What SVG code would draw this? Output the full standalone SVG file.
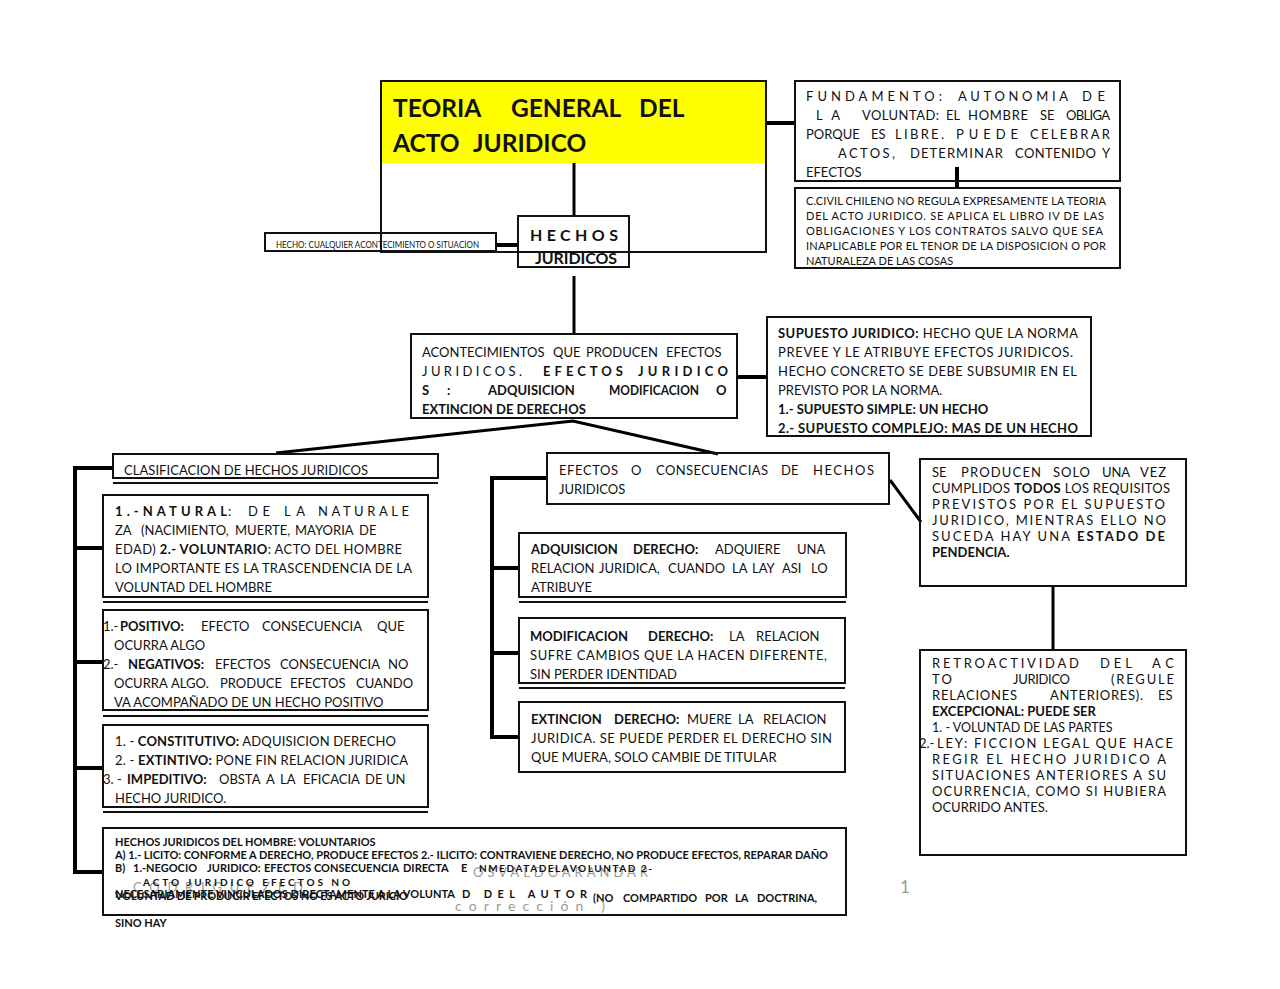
<svg xmlns="http://www.w3.org/2000/svg" width="1280" height="989" viewBox="0 0 1280 989">
<style>
.box{fill:none;stroke:#111;stroke-width:2}
.con{fill:none;stroke:#000;stroke-width:4}
.thin{fill:none;stroke:#000;stroke-width:3}
text{font-family:Lato,"Liberation Sans",sans-serif;font-size:13px;fill:#111}
.b{font-weight:bold}
.s11{font-size:11px}
.s10{font-size:10px}
.t26{font-size:24.5px;font-weight:bold}
.g{fill:#9a9a9a;font-weight:normal}
</style>
<rect width="1280" height="989" fill="#fff"/>

<g id="connectors">
<line class="con" x1="766" y1="123" x2="795" y2="123"/>
<line class="con" x1="957" y1="167" x2="957" y2="188"/>
<line class="thin" x1="574" y1="163" x2="574" y2="216"/>
<line class="con" x1="496" y1="245" x2="518" y2="245"/>
<line class="thin" x1="574" y1="276" x2="574" y2="334"/>
<line class="con" x1="737" y1="377" x2="767" y2="377"/>
<polyline class="thin" points="276,453 573,421 718,454"/>
<polyline class="con" points="113,468 75,468 75,872 103,872"/>
<line class="con" x1="75" y1="548" x2="103" y2="548"/>
<line class="con" x1="75" y1="662" x2="103" y2="662"/>
<line class="con" x1="75" y1="768" x2="103" y2="768"/>
<polyline class="con" points="547,478 492,478 492,737 519,737"/>
<line class="con" x1="492" y1="568" x2="519" y2="568"/>
<line class="con" x1="492" y1="653" x2="519" y2="653"/>
<line class="thin" x1="890" y1="480" x2="921" y2="522"/>
<line class="thin" x1="1053" y1="586" x2="1053" y2="650"/>
</g>

<g id="title">
<rect x="382" y="82" width="383" height="81" fill="#ffff00"/>
<rect class="box" x="381" y="81" width="385" height="171"/>
<text class="t26" y="117"><tspan x="393">TEORIA</tspan><tspan x="511">GENERAL</tspan><tspan x="639">DEL</tspan></text>
<text class="t26" y="152"><tspan x="393">ACTO</tspan><tspan x="473">JURIDICO</tspan></text>
</g>

<g id="hechos">
<rect class="box" x="518" y="216" width="111" height="51"/>
<text class="b" x="530" y="241" style="font-size:16px" textLength="88" lengthAdjust="spacing">HECHOS</text>
<text class="b" x="535" y="264" style="font-size:16px" textLength="82" lengthAdjust="spacing">JURIDICOS</text>
</g>

<g id="hecho-def">
<rect class="box" x="265" y="233" width="231" height="18"/>
<text x="276" y="248" style="font-size:9px" textLength="203" lengthAdjust="spacingAndGlyphs">HECHO: CUALQUIER ACONTECIMIENTO O SITUACION</text>
</g>

<g id="fundamento">
<rect class="box" x="795" y="81" width="325" height="100"/>
<text x="806" y="101" textLength="136" lengthAdjust="spacing">FUNDAMENTO:</text>
<text x="958" y="101" textLength="110" lengthAdjust="spacing">AUTONOMIA</text>
<text x="1082" y="101" textLength="23" lengthAdjust="spacing">DE</text>
<text x="816" y="120" textLength="24" lengthAdjust="spacing">LA</text>
<text x="862" y="120" textLength="77" lengthAdjust="spacing">VOLUNTAD:</text>
<text x="946" y="120">EL</text>
<text x="968" y="120" textLength="60" lengthAdjust="spacing">HOMBRE</text>
<text x="1040" y="120">SE</text>
<text x="1066" y="120" textLength="44" lengthAdjust="spacing">OBLIGA</text>
<text x="806" y="139">PORQUE</text>
<text x="871" y="139">ES</text>
<text x="895" y="139" textLength="49" lengthAdjust="spacing">LIBRE.</text>
<text x="956" y="139" textLength="62" lengthAdjust="spacing">PUEDE</text>
<text x="1030" y="139" textLength="80" lengthAdjust="spacing">CELEBRAR</text>
<text x="838" y="158" textLength="57" lengthAdjust="spacing">ACTOS,</text>
<text x="910" y="158" textLength="93" lengthAdjust="spacing">DETERMINAR</text>
<text x="1015" y="158" textLength="81" lengthAdjust="spacing">CONTENIDO</text>
<text x="1102" y="158">Y</text>
<text x="806" y="177">EFECTOS</text>
</g>

<g id="ccivil">
<rect class="box" x="795" y="188" width="325" height="80"/>
<text class="s11" x="806" y="205" textLength="300" lengthAdjust="spacing">C.CIVIL CHILENO NO REGULA EXPRESAMENTE LA TEORIA</text>
<text class="s11" x="806" y="220" textLength="298" lengthAdjust="spacing">DEL ACTO JURIDICO. SE APLICA EL LIBRO IV DE LAS</text>
<text class="s11" x="806" y="235" textLength="297" lengthAdjust="spacing">OBLIGACIONES Y LOS CONTRATOS  SALVO QUE SEA</text>
<text class="s11" x="806" y="250" textLength="300" lengthAdjust="spacing">INAPLICABLE POR EL TENOR DE LA DISPOSICION O POR</text>
<text class="s11" x="806" y="265">NATURALEZA DE LAS COSAS</text>
</g>

<g id="acontecimientos">
<rect class="box" x="411" y="334" width="326" height="84"/>
<text y="357"><tspan x="422">ACONTECIMIENTOS</tspan><tspan x="553">QUE</tspan><tspan x="586">PRODUCEN</tspan><tspan x="666">EFECTOS</tspan></text>
<text x="422" y="376" textLength="100" lengthAdjust="spacing">JURIDICOS.</text>
<text class="b" x="543" y="376" textLength="80" lengthAdjust="spacing">EFECTOS</text>
<text class="b" x="638" y="376" textLength="90" lengthAdjust="spacing">JURIDICO</text>
<text class="b" y="395"><tspan x="422">S</tspan><tspan x="447">:</tspan><tspan x="488">ADQUISICION</tspan></text>
<text class="b" x="609" y="395" textLength="90" lengthAdjust="spacingAndGlyphs">MODIFICACION</text>
<text class="b" x="716" y="395">O</text>
<text class="b" x="422" y="414">EXTINCION  DE DERECHOS</text>
</g>

<g id="supuesto">
<rect class="box" x="767" y="317" width="324" height="119"/>
<text x="778" y="338" textLength="300" lengthAdjust="spacing"><tspan class="b">SUPUESTO JURIDICO:</tspan> HECHO QUE LA NORMA</text>
<text x="778" y="357" textLength="295" lengthAdjust="spacing">PREVEE Y LE ATRIBUYE EFECTOS JURIDICOS.</text>
<text x="778" y="376" textLength="299" lengthAdjust="spacing">HECHO CONCRETO SE DEBE SUBSUMIR EN EL</text>
<text x="778" y="395">PREVISTO POR LA NORMA.</text>
<text class="b" x="778" y="414">1.- SUPUESTO SIMPLE: UN HECHO</text>
<text class="b" x="778" y="433" textLength="300" lengthAdjust="spacing">2.- SUPUESTO COMPLEJO: MAS DE UN HECHO</text>
</g>

<g id="clasificacion">
<rect class="box" x="113" y="454" width="325" height="24"/>
<line class="box" x1="113" y1="483" x2="438" y2="483"/>
<text x="124" y="475" textLength="244" lengthAdjust="spacing">CLASIFICACION DE HECHOS JURIDICOS</text>
</g>

<g id="natural">
<rect class="box" x="103" y="495" width="325" height="102"/>
<line class="box" x1="103" y1="602" x2="428" y2="602"/>
<text class="b" x="115" y="516" textLength="112" lengthAdjust="spacing">1.-NATURAL</text>
<text x="228" y="516">:</text>
<text x="248" y="516" textLength="22" lengthAdjust="spacing">DE</text>
<text x="284" y="516" textLength="21" lengthAdjust="spacing">LA</text>
<text x="318" y="516" textLength="91" lengthAdjust="spacing">NATURALE</text>
<text y="535"><tspan x="115">ZA</tspan><tspan x="141">(NACIMIENTO,</tspan><tspan x="235">MUERTE,</tspan><tspan x="295">MAYORIA</tspan><tspan x="359">DE</tspan></text>
<text x="115" y="554" textLength="287" lengthAdjust="spacing">EDAD)  <tspan class="b">2.- VOLUNTARIO</tspan>: ACTO DEL HOMBRE</text>
<text x="115" y="573" textLength="297" lengthAdjust="spacing">LO IMPORTANTE ES LA TRASCENDENCIA DE LA</text>
<text x="115" y="592">VOLUNTAD DEL HOMBRE</text>
</g>

<g id="positivo">
<rect class="box" x="103" y="610" width="325" height="100"/>
<line class="box" x1="103" y1="716" x2="428" y2="716"/>
<text y="631"><tspan x="103">1.-</tspan><tspan class="b" x="120">POSITIVO:</tspan><tspan x="201">EFECTO</tspan><tspan x="262">CONSECUENCIA</tspan><tspan x="377">QUE</tspan></text>
<text x="114" y="650">OCURRA ALGO</text>
<text y="669"><tspan x="103">2.-</tspan><tspan class="b" x="128">NEGATIVOS:</tspan><tspan x="215">EFECTOS</tspan><tspan x="280">CONSECUENCIA</tspan><tspan x="388">NO</tspan></text>
<text y="688"><tspan x="114">OCURRA</tspan><tspan x="171">ALGO.</tspan><tspan x="220">PRODUCE</tspan><tspan x="290">EFECTOS</tspan><tspan x="356">CUANDO</tspan></text>
<text x="114" y="707">VA ACOMPAÑADO DE UN HECHO POSITIVO</text>
</g>

<g id="constitutivo">
<rect class="box" x="103" y="725" width="325" height="82"/>
<line class="box" x1="103" y1="812" x2="428" y2="812"/>
<text x="115" y="746" textLength="281" lengthAdjust="spacing">1. - <tspan class="b">CONSTITUTIVO:</tspan> ADQUISICION DERECHO</text>
<text x="115" y="765" textLength="293" lengthAdjust="spacing">2. - <tspan class="b">EXTINTIVO:</tspan> PONE FIN RELACION JURIDICA</text>
<text y="784"><tspan x="103">3. -</tspan><tspan class="b" x="127">IMPEDITIVO:</tspan><tspan x="219">OBSTA</tspan><tspan x="266">A</tspan><tspan x="280">LA</tspan><tspan x="303">EFICACIA</tspan><tspan x="365">DE</tspan><tspan x="386">UN</tspan></text>
<text x="115" y="803">HECHO JURIDICO.</text>
</g>

<g id="voluntarios">
<rect class="box" x="103" y="828" width="743" height="87"/>
<text class="b s11" x="115" y="846">HECHOS JURIDICOS DEL HOMBRE: VOLUNTARIOS</text>
<text class="b s11" x="115" y="859" textLength="713" lengthAdjust="spacing">A) 1.- LICITO: CONFORME A DERECHO, PRODUCE EFECTOS 2.- ILICITO: CONTRAVIENE DERECHO, NO PRODUCE EFECTOS, REPARAR DAÑO</text>
<text class="b s11" y="872"><tspan x="115">B)</tspan><tspan x="133">1.-NEGOCIO</tspan><tspan x="207">JURIDICO:</tspan><tspan x="264">EFECTOS</tspan><tspan x="314">CONSECUENCIA</tspan><tspan x="403">DIRECTA</tspan><tspan x="461">E</tspan></text>
<text class="g" x="473" y="877" style="font-size:13px" textLength="175" lengthAdjust="spacing">OSVALDOARANDAR</text>
<text class="b s10" x="479" y="872" textLength="173" lengthAdjust="spacing">NMEDATADELAVOLUNTAD 2-</text>
<text class="g" x="133" y="892" style="font-size:13px" textLength="170" lengthAdjust="spacing">CODRIGUEZED</text>
<text class="b s10" x="143" y="886" textLength="207" lengthAdjust="spacing">ACTO JURIDICO EFECTOS NO</text>
<text class="b s11" x="115" y="898" textLength="340" lengthAdjust="spacing">NECESARIAMENTE VINCULADOS DIRECTAMENTE A LA VOLUNTA</text>
<text class="b s11" x="115" y="900" textLength="293" lengthAdjust="spacing">VOLUNTAD DE PRODUCIR EFECTOS NO ES ACTO JURICIO</text>
<text class="b s11" x="462" y="898" textLength="125" lengthAdjust="spacing">D DEL AUTOR</text>
<text class="b s11" y="902"><tspan x="593">(NO</tspan><tspan x="623">COMPARTIDO</tspan><tspan x="705">POR</tspan><tspan x="735">LA</tspan><tspan x="757">DOCTRINA,</tspan></text>
<text class="g" x="455" y="911" style="font-size:14px" textLength="150" lengthAdjust="spacing">corrección )</text>
<text class="b s11" x="115" y="927">SINO  HAY</text>
</g>

<g id="efectos">
<rect class="box" x="547" y="453" width="342" height="51"/>
<text x="559" y="475" textLength="59" lengthAdjust="spacing">EFECTOS</text>
<text x="631" y="475">O</text>
<text x="656" y="475" textLength="112" lengthAdjust="spacing">CONSECUENCIAS</text>
<text x="781" y="475">DE</text>
<text x="813" y="475" textLength="61" lengthAdjust="spacing">HECHOS</text>
<text x="559" y="494">JURIDICOS</text>
</g>

<g id="adquisicion">
<rect class="box" x="519" y="533" width="327" height="64"/>
<line class="box" x1="519" y1="602" x2="846" y2="602"/>
<text y="554"><tspan class="b" x="531">ADQUISICION</tspan><tspan class="b" x="633">DERECHO:</tspan><tspan x="715">ADQUIERE</tspan><tspan x="797">UNA</tspan></text>
<text y="573"><tspan x="531">RELACION</tspan><tspan x="599">JURIDICA,</tspan><tspan x="668">CUANDO</tspan><tspan x="732">LA</tspan><tspan x="752">LAY</tspan><tspan x="782">ASI</tspan><tspan x="811">LO</tspan></text>
<text x="531" y="592">ATRIBUYE</text>
</g>

<g id="modificacion">
<rect class="box" x="519" y="618" width="326" height="65"/>
<line class="box" x1="519" y1="688" x2="845" y2="688"/>
<text y="641"><tspan class="b" x="530">MODIFICACION</tspan><tspan class="b" x="648">DERECHO:</tspan><tspan x="729">LA</tspan><tspan x="756">RELACION</tspan></text>
<text x="530" y="660" textLength="297" lengthAdjust="spacing">SUFRE CAMBIOS QUE LA HACEN DIFERENTE,</text>
<text x="530" y="679">SIN PERDER IDENTIDAD</text>
</g>

<g id="extincion">
<rect class="box" x="519" y="702" width="326" height="70"/>
<text y="724"><tspan class="b" x="531">EXTINCION</tspan><tspan class="b" x="614">DERECHO:</tspan><tspan x="687">MUERE</tspan><tspan x="738">LA</tspan><tspan x="763">RELACION</tspan></text>
<text x="531" y="743" textLength="301" lengthAdjust="spacing">JURIDICA. SE PUEDE PERDER EL DERECHO SIN</text>
<text x="531" y="762">QUE MUERA, SOLO CAMBIE DE TITULAR</text>
</g>

<g id="pendencia">
<rect class="box" x="920" y="459" width="266" height="127"/>
<text x="932" y="477">SE</text>
<text x="961" y="477" textLength="80" lengthAdjust="spacing">PRODUCEN</text>
<text x="1053" y="477" textLength="37" lengthAdjust="spacing">SOLO</text>
<text x="1102" y="477" textLength="28" lengthAdjust="spacing">UNA</text>
<text x="1140" y="477" textLength="26" lengthAdjust="spacing">VEZ</text>
<text x="932" y="493" textLength="238" lengthAdjust="spacing">CUMPLIDOS <tspan class="b">TODOS</tspan> LOS REQUISITOS</text>
<text x="932" y="509" textLength="233" lengthAdjust="spacing">PREVISTOS POR EL SUPUESTO</text>
<text x="932" y="525" textLength="234" lengthAdjust="spacing">JURIDICO, MIENTRAS ELLO NO</text>
<text x="932" y="541" textLength="233" lengthAdjust="spacing">SUCEDA HAY UNA <tspan class="b">ESTADO DE</tspan></text>
<text class="b" x="932" y="557">PENDENCIA.</text>
</g>

<g id="retroactividad">
<rect class="box" x="920" y="650" width="266" height="205"/>
<text x="932" y="668" textLength="147" lengthAdjust="spacing">RETROACTIVIDAD</text>
<text x="1100" y="668" textLength="32" lengthAdjust="spacing">DEL</text>
<text x="1152" y="668" textLength="22" lengthAdjust="spacing">AC</text>
<text x="932" y="684" textLength="20" lengthAdjust="spacing">TO</text>
<text x="1013" y="684" textLength="57" lengthAdjust="spacing">JURIDICO</text>
<text x="1111" y="684" textLength="63" lengthAdjust="spacing">(REGULE</text>
<text x="932" y="700" textLength="85" lengthAdjust="spacing">RELACIONES</text>
<text x="1050" y="700" textLength="93" lengthAdjust="spacing">ANTERIORES).</text>
<text x="1158" y="700">ES</text>
<text class="b" x="932" y="716">EXCEPCIONAL:   PUEDE SER</text>
<text x="932" y="732" style="font-size:12.5px">1. - VOLUNTAD DE LAS PARTES</text>
<text x="919" y="748">2.-</text>
<text x="937" y="748" textLength="236" lengthAdjust="spacing">LEY:  FICCION  LEGAL  QUE  HACE</text>
<text x="932" y="764" textLength="234" lengthAdjust="spacing">REGIR EL HECHO JURIDICO A</text>
<text x="932" y="780" textLength="234" lengthAdjust="spacing">SITUACIONES ANTERIORES A SU</text>
<text x="932" y="796" textLength="234" lengthAdjust="spacing">OCURRENCIA, COMO SI HUBIERA</text>
<text x="932" y="812">OCURRIDO ANTES.</text>
</g>

<g id="page-number">
<text x="900" y="893" style="font-size:17px;fill:#999">1</text>
</g>
</svg>
